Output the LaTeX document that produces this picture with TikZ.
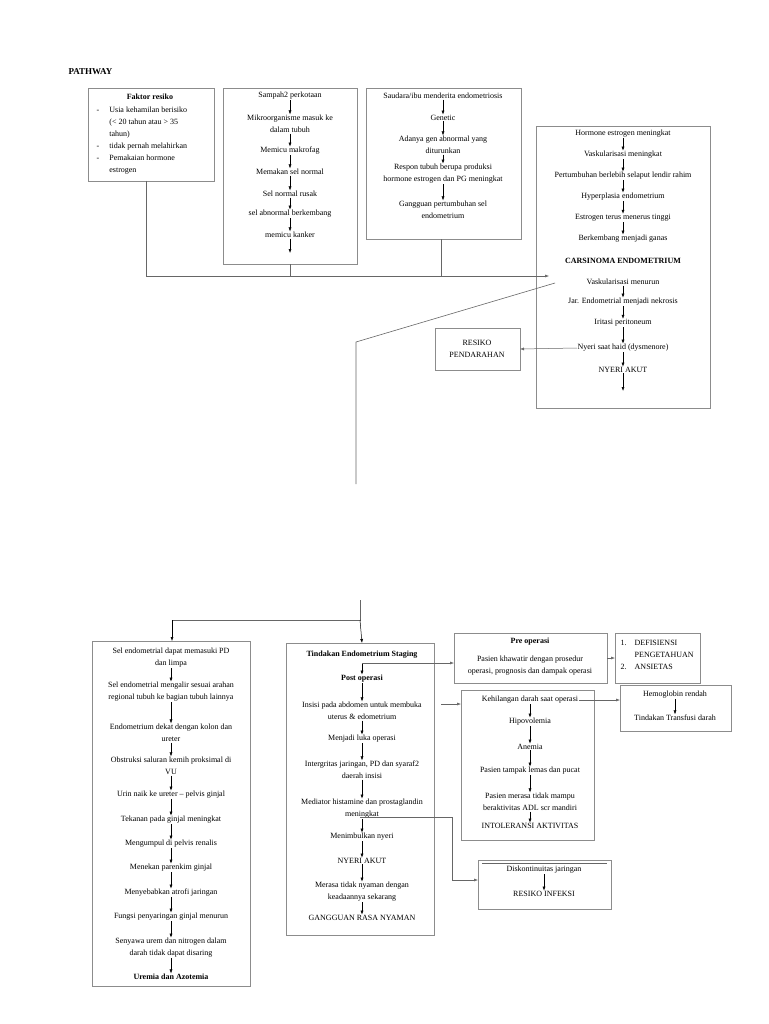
\documentclass[tikz,border=0pt]{standalone}
\usepackage{fontspec}
\setmainfont{Liberation Serif}
\usetikzlibrary{arrows.meta}

\tikzset{
  box/.style={draw=black!45, line width=0.6pt},
  txt/.style={align=center, inner sep=0.5pt, font=\fontsize{8}{12}\selectfont},
  btxt/.style={txt, font=\fontsize{8}{12}\selectfont\bfseries},
  arr/.style={-{Latex[length=4pt,width=3pt]}, line width=0.5pt},
  ln/.style={draw=black!60, line width=0.6pt}
}

\begin{document}
\begin{tikzpicture}[x=1pt,y=1pt,yscale=-1]
\useasboundingbox[fill=white] (0,0) rectangle (768,1024);
% title
\node[anchor=west, font=\fontsize{9}{11}\selectfont\bfseries] (title) at (65,72) {PATHWAY};
% upper boxes
\draw[box] (88,88) rectangle (214,181);
\draw[box] (223,88) rectangle (357,264);
\draw[box] (366,88) rectangle (521,239);
\draw[box] (536,126) rectangle (710,408);
\draw[box] (435,328) rectangle (520,370);
% Faktor resiko
\node[btxt] (faktor) at (150,97) {Faktor resiko};
\node[txt, anchor=north west, align=left] (list) at (96,103) {\begin{tabular}{@{}l@{\hspace{10pt}}l@{}}
- & Usia kehamilan berisiko\\
 & (< 20 tahun atau > 35\\
 & tahun)\\
- & tidak pernah melahirkan\\
- & Pemakaian hormone\\
 & estrogen
\end{tabular}};
% Sampah
\node[txt] (sampah) at (290,96) {Sampah2 perkotaan};
\node[txt] (mikro) at (290,124) {Mikroorganisme masuk ke\\dalam tubuh};
\node[txt] (makro) at (290,151) {Memicu makrofag};
\node[txt] (makan) at (290,172) {Memakan sel normal};
\node[txt] (rusak) at (290,194) {Sel normal rusak};
\node[txt] (abnorm) at (290,214) {sel abnormal berkembang};
\node[txt] (kanker) at (290,235) {memicu kanker};
\coordinate (kankerend) at (290,253);
\draw[arr] (sampah) -- (mikro);
\draw[arr] (mikro) -- (makro);
\draw[arr] (makro) -- (makan);
\draw[arr] (makan) -- (rusak);
\draw[arr] (rusak) -- (abnorm);
\draw[arr] (abnorm) -- (kanker);
\draw[arr] (kanker) -- (kankerend);
% Saudara
\node[txt] (saudara) at (443,96) {Saudara/ibu menderita endometriosis};
\node[txt] (genetic) at (443,118) {Genetic};
\node[txt] (gen) at (443,145) {Adanya gen abnormal yang\\diturunkan};
\node[txt] (respon) at (443,174) {Respon tubuh berupa produksi\\hormone estrogen dan PG meningkat};
\node[txt] (ganggu) at (443,210) {Gangguan pertumbuhan sel\\endometrium};
\draw[arr] (saudara) -- (genetic);
\draw[arr] (genetic) -- (gen);
\draw[arr] (gen) -- (respon);
\draw[arr] (respon) -- (ganggu);
% join
\coordinate (j1) at (146,181);
\coordinate (j1b) at (146,276);
\coordinate (j2) at (290,264);
\coordinate (j2b) at (290,276);
\coordinate (j3) at (441,239);
\coordinate (j3b) at (441,276);
\coordinate (jend) at (549,276);
\draw[ln] (j1) -- (j1b);
\draw[ln] (j2) -- (j2b);
\draw[ln] (j3) -- (j3b);
\draw[ln, arr] (j1b) -- (jend);
% right column
\node[txt] (hormon) at (623,134) {Hormone estrogen meningkat};
\node[txt] (vask) at (623,155) {Vaskularisasi meningkat};
\node[txt] (pertum) at (623,176) {Pertumbuhan berlebih selaput lendir rahim};
\node[txt] (hyper) at (623,197) {Hyperplasia endometrium};
\node[txt] (estro) at (623,218) {Estrogen terus menerus tinggi};
\node[txt] (ganas) at (623,239) {Berkembang menjadi ganas};
\node[btxt] (ca) at (623,261) {CARSINOMA ENDOMETRIUM};
\node[txt] (vturun) at (623,282) {Vaskularisasi menurun};
\node[txt] (nekro) at (623,302) {Jar. Endometrial menjadi nekrosis};
\node[txt] (iritasi) at (623,323) {Iritasi peritoneum};
\node[txt] (haid) at (623,348) {Nyeri saat haid (dysmenore)};
\node[txt] (nyeri1) at (623,370) {NYERI AKUT};
\coordinate (nyeriend) at (623,391);
\draw[arr] (hormon) -- (vask);
\draw[arr] (vask) -- (pertum);
\draw[arr] (pertum) -- (hyper);
\draw[arr] (hyper) -- (estro);
\draw[arr] (estro) -- (ganas);
\draw[arr] (vturun) -- (nekro);
\draw[arr] (nekro) -- (iritasi);
\draw[arr] (iritasi) -- (haid);
\draw[arr] (haid) -- (nyeri1);
\draw[arr] (nyeri1) -- (nyeriend);
\node[txt] (pendarahan) at (477,349) {RESIKO\\PENDARAHAN};
\draw[ln, arr] (haid.west) -- (520,349);
% link down
\coordinate (d0) at (555,283);
\coordinate (d1) at (356,342);
\coordinate (d2) at (356,484);
\draw[ln] (d0) -- (d1) -- (d2);
% lower split
\coordinate (s0) at (360,600);
\coordinate (s1) at (360,620);
\coordinate (sl) at (172,620);
\draw[ln] (s0) -- (s1) -- (sl);
\draw[arr] (sl) -- (172,641);
\draw[arr] (s1) -- (362,643);
% lower boxes
\draw[box] (92,641) rectangle (250,986);
\draw[box] (286,643) rectangle (434,935);
\draw[box] (454,633) rectangle (607,683);
\draw[box] (615,633) rectangle (700,683);
\draw[box] (461,690) rectangle (594,840);
\draw[box] (620,685) rectangle (731,731);
\draw[box] (478,860) rectangle (611,909);
\draw[ln] (482,863) -- (607,863);
% left lower column
\node[txt] (l1) at (171,658) {Sel endometrial dapat memasuki PD\\dan limpa};
\node[txt] (l2) at (171,692) {Sel endometrial mengalir sesuai arahan\\regional tubuh ke bagian tubuh lainnya};
\node[txt] (l3) at (171,733) {Endometrium dekat dengan kolon dan\\ureter};
\node[txt] (l4) at (171,766) {Obstruksi saluran kemih proksimal di\\VU};
\node[txt] (l5) at (171,795) {Urin naik ke ureter -- pelvis ginjal};
\node[txt] (l6) at (171,820) {Tekanan pada ginjal meningkat};
\node[txt] (l7) at (171,844) {Mengumpul di pelvis renalis};
\node[txt] (l8) at (171,868) {Menekan parenkim ginjal};
\node[txt] (l9) at (171,893) {Menyebabkan atrofi jaringan};
\node[txt] (l10) at (171,917) {Fungsi penyaringan ginjal menurun};
\node[txt] (l11) at (171,948) {Senyawa urem dan nitrogen dalam\\darah tidak dapat disaring};
\node[btxt] (l12) at (171,977) {Uremia dan Azotemia};
\foreach \a/\b in {l1/l2,l2/l3,l3/l4,l4/l5,l5/l6,l6/l7,l7/l8,l8/l9,l9/l10,l10/l11,l11/l12}
  \draw[arr] (\a) -- (\b);
% middle lower column
\node[btxt] (m1) at (362,655) {Tindakan Endometrium Staging};
\node[btxt] (m2) at (362,679) {Post operasi};
\node[txt] (m3) at (362,711) {Insisi pada abdomen untuk membuka\\uterus \& edometrium};
\node[txt] (m4) at (362,739) {Menjadi luka operasi};
\node[txt] (m5) at (362,770) {Intergritas jaringan, PD dan syaraf2\\daerah insisi};
\node[txt] (m6) at (362,809) {Mediator histamine dan prostaglandin\\meningkat};
\node[txt] (m7) at (362,837) {Menimbulkan nyeri};
\node[txt] (m8) at (362,861) {NYERI AKUT};
\node[txt] (m9) at (362,892) {Merasa tidak nyaman dengan\\keadaannya sekarang};
\node[txt] (m10) at (362,918) {GANGGUAN RASA NYAMAN};
\foreach \a/\b in {m3/m4,m4/m5,m5/m6,m6/m7,m7/m8,m8/m9,m9/m10}
  \draw[arr] (\a) -- (\b);
\coordinate (pre0) at (362,663);
\draw[arr] (pre0) -- (m2);
\draw[arr] (m2) -- (m3);
\draw[ln, arr] (pre0) -- (454,663);
\coordinate (ins0) at (441,704);
\draw[ln, arr] (ins0) -- (461,704);
\coordinate (med0) at (360,817);
\coordinate (med1) at (452,817);
\coordinate (med2) at (452,880);
\draw[ln] (med0) -- (med1) -- (med2);
\draw[ln, arr] (med2) -- (478,880);
% pre operasi
\node[btxt] (pre) at (530,642) {Pre operasi};
\node[txt] (khawatir) at (530,666) {Pasien khawatir dengan prosedur\\operasi, prognosis dan dampak operasi};
\node[txt, anchor=north west, align=left] (diag) at (620,636) {\begin{tabular}{@{}l@{\hspace{8pt}}l@{}}
1. & DEFISIENSI\\
 & PENGETAHUAN\\
2. & ANSIETAS
\end{tabular}};
\draw[ln, arr] (607,658) -- (615,658);
% kehilangan
\node[txt] (k1) at (530,700) {Kehilangan darah saat operasi};
\node[txt] (k2) at (530,722) {Hipovolemia};
\node[txt] (k3) at (530,747) {Anemia};
\node[txt] (k4) at (530,771) {Pasien tampak lemas dan pucat};
\node[txt] (k5) at (530,802) {Pasien merasa tidak mampu\\beraktivitas ADL scr mandiri};
\node[txt] (k6) at (530,826) {INTOLERANSI AKTIVITAS};
\foreach \a/\b in {k1/k2,k2/k3,k3/k4,k4/k5,k5/k6}
  \draw[arr] (\a) -- (\b);
\draw[ln, arr] (k1.east) -- (620,700);
% hemoglobin
\node[txt] (hb) at (675,695) {Hemoglobin rendah};
\node[txt] (transfusi) at (675,718) {Tindakan Transfusi darah};
\draw[arr] (hb) -- (transfusi);
% infeksi
\node[txt] (disk) at (544,870) {Diskontinuitas jaringan};
\node[txt] (infeksi) at (544,894) {RESIKO INFEKSI};
\draw[arr] (disk) -- (infeksi);
\end{tikzpicture}
\end{document}
